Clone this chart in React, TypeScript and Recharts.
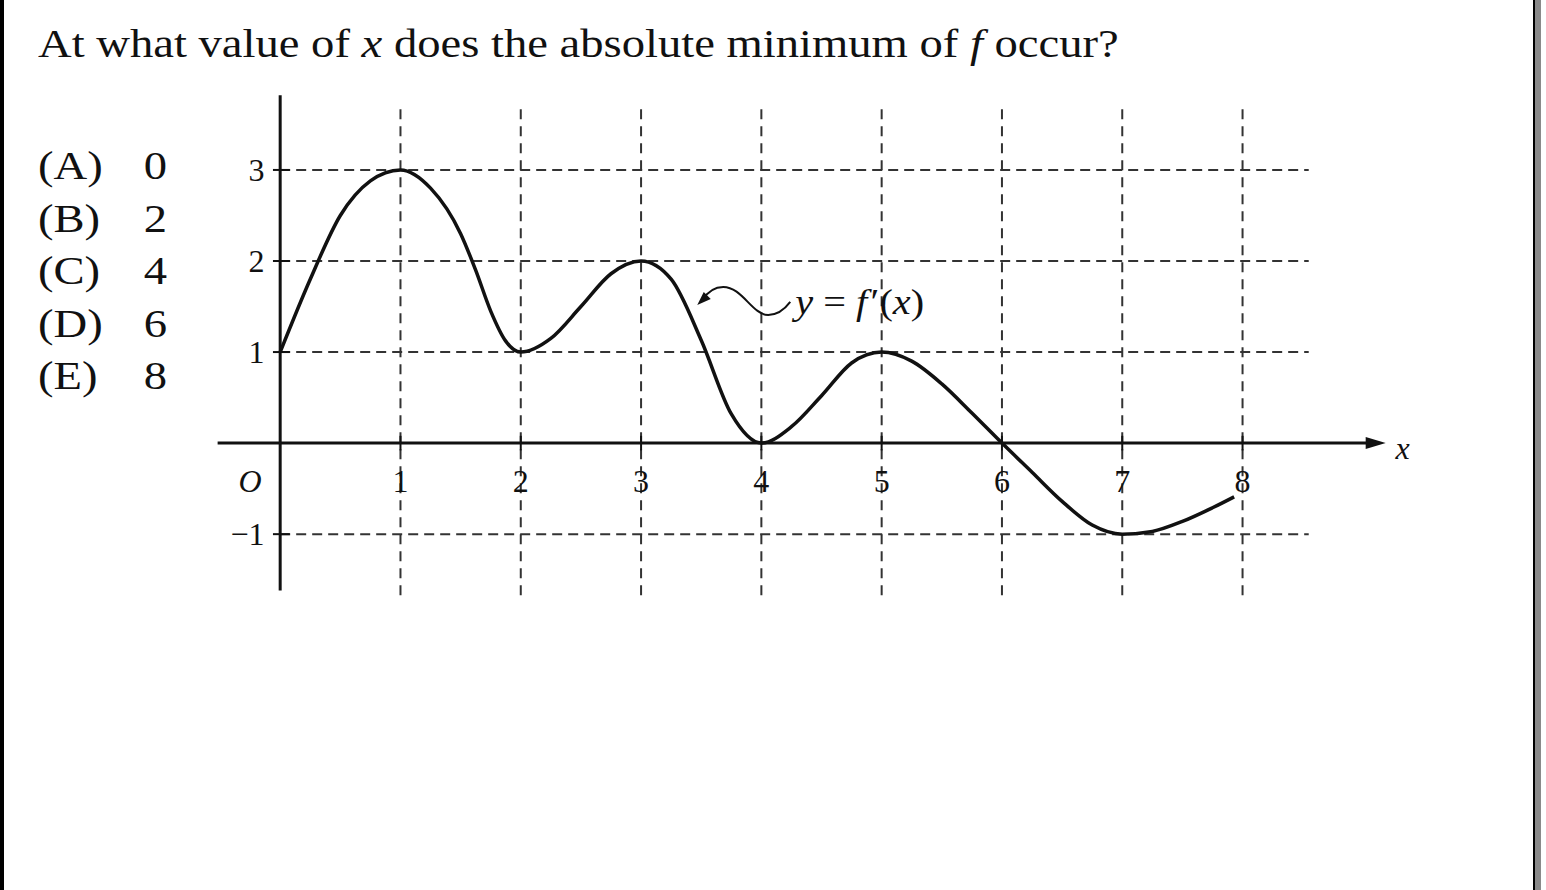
import { ComposedChart, Line, ReferenceDot, ReferenceLine, XAxis, YAxis } from 'recharts'

// f'(x)
const xs = [0, 0.25, 0.5, 0.75, 1, 1.25, 1.5, 1.625, 1.75, 1.875, 2, 2.25, 2.5, 2.75, 3, 3.25, 3.5, 3.75, 4, 4.25, 4.5, 4.75, 5, 5.25, 5.5, 5.75, 6, 6.25, 6.5, 6.75, 7, 7.25, 7.5, 7.75, 7.93]
const ys = [1, 1.8, 2.5, 2.88, 3, 2.8, 2.3, 1.9, 1.45, 1.12, 1, 1.15, 1.5, 1.86, 2, 1.8, 1.13, 0.32, 0, 0.18, 0.52, 0.88, 1, 0.9, 0.65, 0.33, 0, -0.32, -0.64, -0.9, -1, -0.97, -0.86, -0.71, -0.59]

const xTicks = [1, 2, 3, 4, 5, 6, 7, 8]
const yTicks = [-1, 1, 2, 3]
const choiceLetters = ['A', 'B', 'C', 'D', 'E']
const choiceValues = [0, 2, 4, 6, 8]

const curve = xs.map((x, i) => ({ x, y: ys[i] }))

const SERIF = '"Liberation Serif", "Times New Roman", serif'
const INK = '#111'
const GRID = '#333'
// the scan is a bit wider than tall, so the prose is stretched to match
const STRETCH = 'scaleX(1.195)'

const label = (text: string, anchor: 'start' | 'middle' | 'end', size = 32, italic = false) =>
  (p: any) => (
    <text x={p.cx} y={p.cy} textAnchor={anchor} dominantBaseline="central" fontFamily={SERIF} fontSize={size} fontStyle={italic ? 'italic' : 'normal'} fill={INK}>
      {text}
    </text>
  )

const arrowHead = (p: any) => (
  <polygon points={`${p.cx},${p.cy} ${p.cx - 20},${p.cy - 6} ${p.cx - 20},${p.cy + 6}`} fill={INK} />
)

const callout = (p: any) => (
  <g transform={`translate(${p.cx},${p.cy})`}>
    <path d="M0,0 C-6,8 -13,13 -22,13 C-38,13 -48,-15 -67,-15 C-77,-15 -84,-8 -88,-2" fill="none" stroke={INK} strokeWidth={2} />
    <polygon points="-93,3 -86.5,-10 -79.5,-3" fill={INK} />
    <g transform="translate(5,0) scale(1.12,1)">
      <text x={0} y={0} dominantBaseline="central" fontFamily={SERIF} fontSize={36} fill={INK}>
        <tspan fontStyle="italic">y</tspan> = <tspan fontStyle="italic">f</tspan>
        <tspan dx={3}>′(</tspan>
        <tspan fontStyle="italic">x</tspan>)
      </text>
    </g>
  </g>
)

export default function App() {
  return (
    <div style={{ position: 'absolute', left: 0, top: 0, width: 1546, height: 890, background: '#fff', overflow: 'hidden', fontFamily: SERIF, color: INK }}>
      <div style={{ position: 'absolute', left: 0, top: 0, width: 4, height: 890, background: '#000' }} />
      <div style={{ position: 'absolute', left: 1533, top: 0, width: 2, height: 890, background: '#000' }} />
      <div style={{ position: 'absolute', left: 1535, top: 0, width: 6, height: 890, background: '#8a8a8a' }} />

      <div style={{ position: 'absolute', left: 38, top: 24, fontSize: 39, lineHeight: 1, whiteSpace: 'nowrap', transform: STRETCH, transformOrigin: 'left top' }}>
        At what value of <i>x</i> does the absolute minimum of <i>f</i> occur?
      </div>

      {choiceLetters.map((c, i) => (
        <div key={c} style={{ position: 'absolute', left: 38, top: 146 + i * 52.5, fontSize: 39, lineHeight: 1, whiteSpace: 'nowrap', transform: STRETCH, transformOrigin: 'left top' }}>
          <span>({c})</span>
          <span style={{ position: 'absolute', left: 88.5 }}>{choiceValues[i]}</span>
        </div>
      ))}

      <div style={{ position: 'absolute', left: 208, top: 88 }}>
        <ComposedChart width={1215} height={519} data={curve} margin={{ top: 0, right: 0, bottom: 0, left: 0 }}>
          <XAxis type="number" dataKey="x" domain={[-0.6, 9.5]} hide />
          <YAxis type="number" domain={[-1.8, 3.9]} hide />

          {xTicks.map((k) => (
            <ReferenceLine key={`vx${k}`} segment={[{ x: k, y: -1.67 }, { x: k, y: 3.73 }]} stroke={GRID} strokeWidth={2} strokeDasharray="10 7" />
          ))}
          {yTicks.map((k) => (
            <ReferenceLine key={`hy${k}`} segment={[{ x: 0, y: k }, { x: 8.55, y: k }]} stroke={GRID} strokeWidth={2} strokeDasharray="10 6" />
          ))}

          <ReferenceLine segment={[{ x: -0.52, y: 0 }, { x: 9.05, y: 0 }]} stroke={INK} strokeWidth={3} />
          <ReferenceLine segment={[{ x: 0, y: -1.62 }, { x: 0, y: 3.82 }]} stroke={INK} strokeWidth={3} />
          {xTicks.map((k) => (
            <ReferenceLine key={`tx${k}`} segment={[{ x: k, y: -0.08 }, { x: k, y: 0.08 }]} stroke={INK} strokeWidth={2} />
          ))}
          {yTicks.map((k) => (
            <ReferenceLine key={`ty${k}`} segment={[{ x: -0.06, y: k }, { x: 0.08, y: k }]} stroke={INK} strokeWidth={2} />
          ))}
          <ReferenceDot x={9.19} y={0} shape={arrowHead} />

          <Line type="monotone" dataKey="y" stroke={INK} strokeWidth={3.5} dot={false} isAnimationActive={false} />

          {xTicks.map((k) => (
            <ReferenceDot key={`lx${k}`} x={k} y={-0.42} shape={label(String(k), 'middle')} />
          ))}
          {yTicks.map((k) => (
            <ReferenceDot key={`ly${k}`} x={-0.13} y={k} shape={label(k < 0 ? `\u2212${-k}` : String(k), 'end')} />
          ))}
          <ReferenceDot x={-0.25} y={-0.42} shape={label('O', 'middle', 32, true)} />
          <ReferenceDot x={9.33} y={-0.05} shape={label('x', 'middle', 32, true)} />
          <ReferenceDot x={4.24} y={1.55} shape={callout} />
        </ComposedChart>
      </div>
    </div>
  )
}
